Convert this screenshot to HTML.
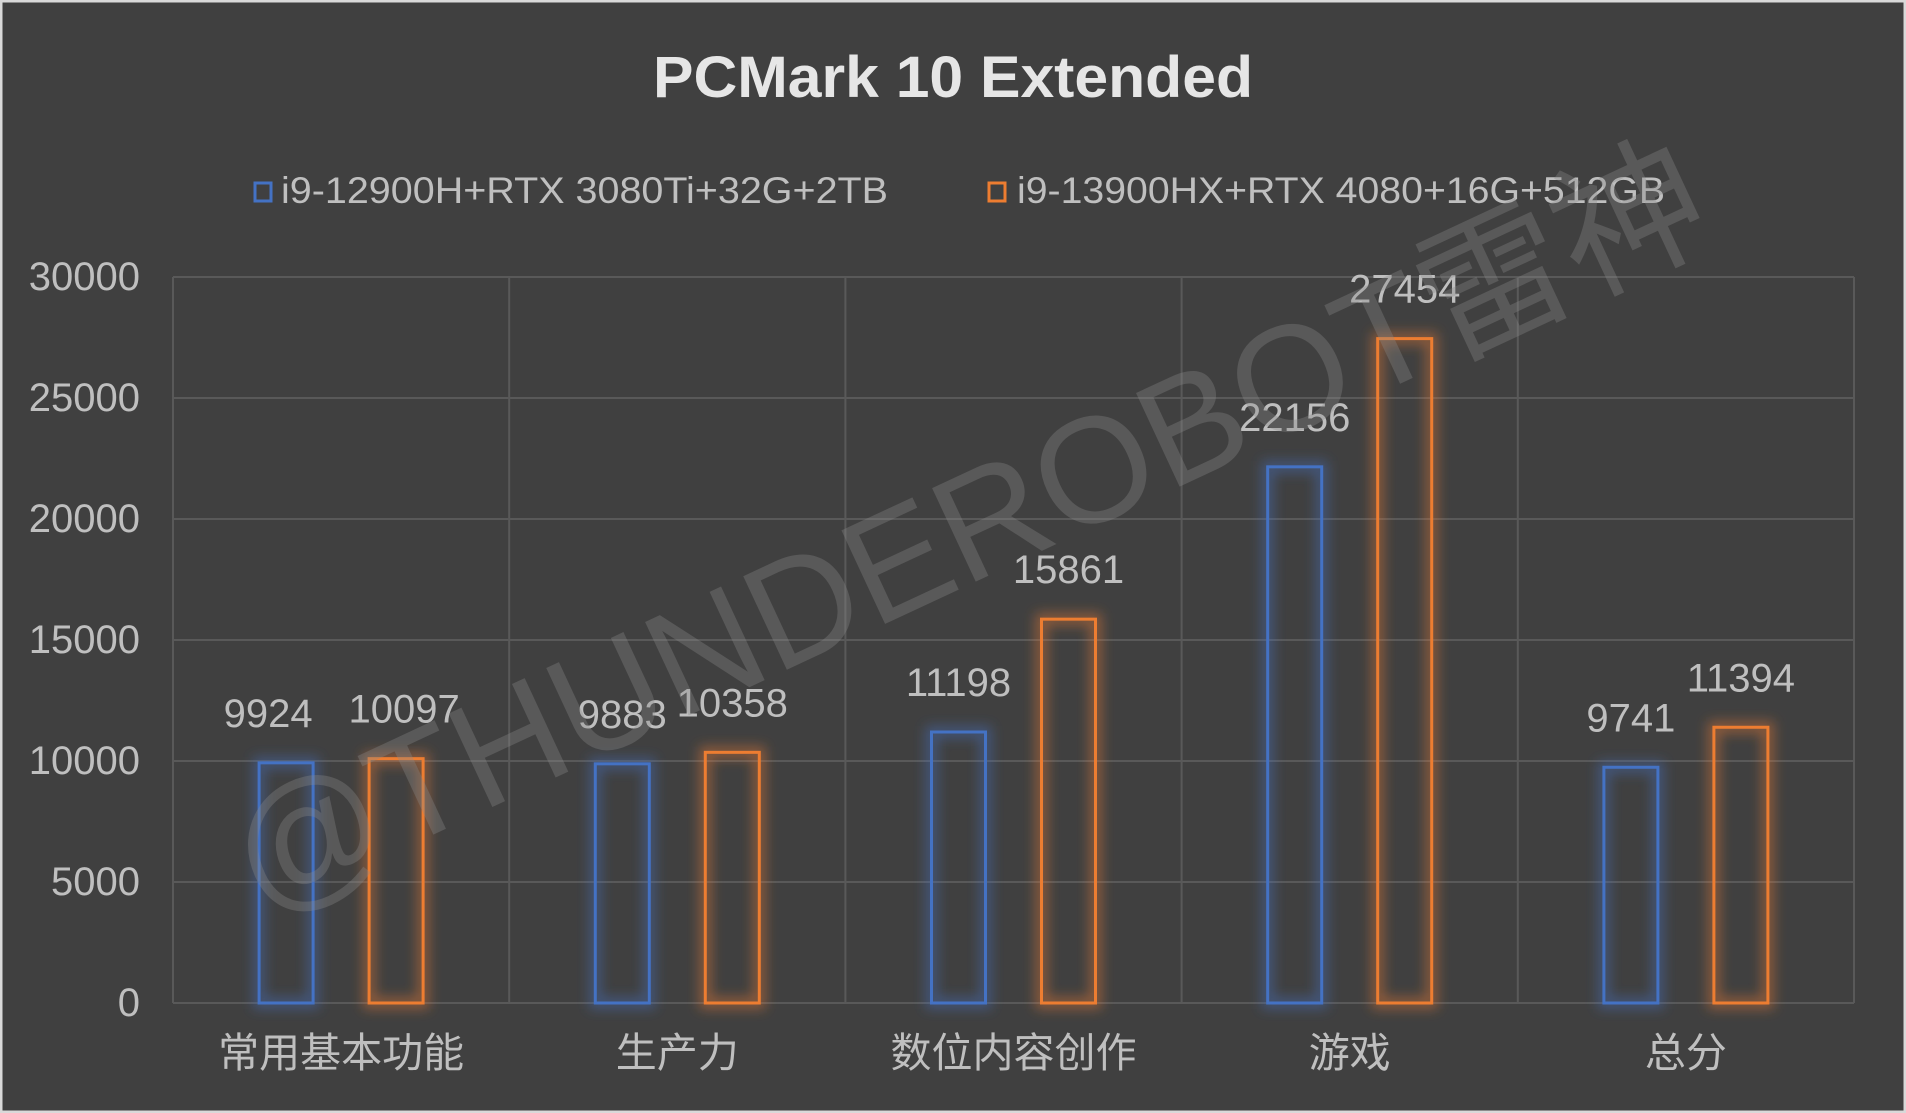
<!DOCTYPE html>
<html><head><meta charset="utf-8"><style>
html,body{margin:0;padding:0;background:#404040;}
svg{display:block;}
text{font-family:"Liberation Sans","Noto Sans CJK SC",sans-serif;}
</style></head><body>
<svg id="chart" width="1906" height="1113" viewBox="0 0 1906 1113" xmlns="http://www.w3.org/2000/svg">
<defs>
<filter id="glow" x="-50%" y="-20%" width="200%" height="140%"><feGaussianBlur stdDeviation="6"/></filter>
</defs>
<rect x="0" y="0" width="1906" height="1113" fill="#404040" stroke="#d9d9d9" stroke-width="5"/>
<text x="953" y="97" text-anchor="middle" font-size="58" font-weight="bold" fill="#e6e6e6" textLength="600" lengthAdjust="spacingAndGlyphs">PCMark 10 Extended</text>
<g>
<rect x="255" y="183" width="16" height="18" fill="none" stroke="#4472c4" stroke-width="3"/>
<text x="281" y="203" font-size="37" fill="#bfbfbf" textLength="607" lengthAdjust="spacingAndGlyphs">i9-12900H+RTX 3080Ti+32G+2TB</text>
<rect x="989" y="183" width="16" height="18" fill="none" stroke="#ed7d31" stroke-width="3"/>
<text x="1017" y="203" font-size="37" fill="#bfbfbf" textLength="648" lengthAdjust="spacingAndGlyphs">i9-13900HX+RTX 4080+16G+512GB</text>
</g>
<g id="grid"></g>
<g id="bars"></g>
<g id="labels"></g>
<text x="0" y="0" font-size="150" fill="#8a8a8a" fill-opacity="0.35" text-anchor="middle" transform="translate(990,575) rotate(-25)">@THUNDEROBOT雷神</text>
</svg>
<script>
const categories = ["常用基本功能","生产力","数位内容创作","游戏","总分"];
const series1 = [9924, 9883, 11198, 22156, 9741];
const series2 = [10097, 10358, 15861, 27454, 11394];
const yTicks = [0, 5000, 10000, 15000, 20000, 25000, 30000];
const NS = "http://www.w3.org/2000/svg";
const L = 173, R = 1854, T = 277, B = 1003, YMAX = 30000;
const bw = (R - L) / categories.length;
function y(v){ return B - v / YMAX * (B - T); }
function xc(i){ return L + bw * (i + 0.5); }
function mk(tag, attrs, parent){ const e = document.createElementNS(NS, tag); for (const k in attrs) e.setAttribute(k, attrs[k]); parent.appendChild(e); return e; }
const grid = document.getElementById('grid'), bars = document.getElementById('bars'), labels = document.getElementById('labels');
yTicks.forEach(t => {
  const ln = mk('line', {x1:L, x2:R, y1:y(t), y2:y(t), stroke:'#595959', 'stroke-width':2}, grid);
  
  
  const tx = mk('text', {x:140, y:y(t)+13, 'text-anchor':'end', 'font-size':40, fill:'#bfbfbf'}, labels);
  tx.textContent = t;
  
  
});
for (let i = 0; i <= categories.length; i++) {
  const ln = mk('line', {x1:L+bw*i, x2:L+bw*i, y1:T, y2:B, stroke:'#595959', 'stroke-width':2}, grid);
  
  
}
const W = 54, OFF = 55;
function bar(v, cx, color, name, dx){
  const g = mk('rect', {x:cx-W/2, y:y(v), width:W, height:B-y(v), fill:'none', stroke:color, 'stroke-width':12, 'stroke-opacity':0.45, filter:'url(#glow)'}, bars);
  
  
  const r = mk('rect', {x:cx-W/2, y:y(v), width:W, height:B-y(v), fill:'none', stroke:color, 'stroke-width':3}, bars);
  
  
  const t = mk('text', {x:cx+dx, y:y(v)-36, 'text-anchor':'middle', 'font-size':40, fill:'#bfbfbf'}, labels);
  t.textContent = v;
  
  
}
categories.forEach((c, i) => {
  bar(series1[i], xc(i) - OFF, '#4472c4', 'bar-series1-' + i, i === 0 ? -18 : 0);
  bar(series2[i], xc(i) + OFF, '#ed7d31', 'bar-series2-' + i, i === 0 ? 8 : 0);
  const t = mk('text', {x:xc(i), y:1067, 'text-anchor':'middle', 'font-size':41, fill:'#bfbfbf'}, labels);
  t.textContent = c;
  
  
});
</script>
</body></html>
